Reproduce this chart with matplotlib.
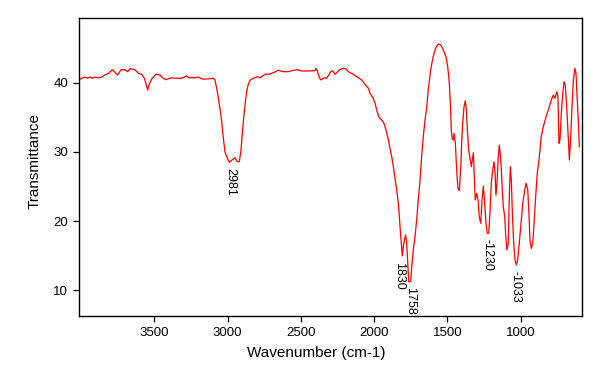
import matplotlib

matplotlib.use("Agg")
import matplotlib.pyplot as plt
import numpy as np

plt.rcParams["font.family"] = ["Liberation Sans", "DejaVu Sans"]

# 4000-3090 cm-1: baseline with the small O-H dip
wn_high = [4007, 3973, 3954, 3939, 3923, 3905, 3886, 3859, 3836, 3813,
           3787, 3768, 3750, 3727, 3700, 3682, 3666, 3632, 3609, 3586,
           3568, 3557, 3545, 3536, 3518, 3490, 3461, 3445, 3422, 3381,
           3359, 3313, 3279, 3263, 3222, 3200, 3173, 3143, 3097]
t_high = [40.53, 40.82, 40.64, 40.82, 40.64, 40.82, 40.72, 40.82, 41.11, 41.36,
          41.88, 41.50, 41.11, 41.88, 41.88, 41.59, 42.02, 41.88, 41.36, 41.21,
          40.64, 39.86, 38.95, 39.67, 40.53, 41.21, 41.11, 40.72, 40.43, 40.72,
          40.64, 40.64, 40.97, 40.72, 40.72, 40.82, 40.53, 40.53, 40.64]

# 3090-2020 cm-1: C-H stretch band
wn_ch = [3086, 3074, 3063, 3052, 3040, 3029, 3018, 3006, 2988, 2970,
         2949, 2934, 2920, 2910, 2902, 2893, 2881, 2870, 2859, 2847,
         2825, 2797, 2779, 2745, 2711, 2683, 2654, 2620, 2586, 2562,
         2528, 2494, 2460, 2404, 2397, 2388, 2374, 2363, 2342, 2324,
         2296, 2283, 2267, 2238, 2210, 2192, 2170, 2142, 2108, 2085,
         2062, 2039, 2028]
t_ch = [40.39, 39.19, 37.75, 36.30, 34.36, 31.97, 30.03, 29.31, 28.50, 28.83,
        29.16, 28.58, 28.58, 30.03, 31.97, 34.36, 36.78, 38.70, 39.77, 40.35,
        40.64, 40.87, 40.72, 41.21, 41.26, 41.50, 41.79, 41.59, 41.59, 41.73,
        41.88, 41.69, 41.69, 41.73, 42.08, 41.73, 40.72, 40.39, 40.72, 40.64,
        41.59, 41.73, 41.21, 41.84, 42.08, 41.98, 41.50, 41.21, 40.72, 40.39,
        39.77, 39.19, 38.47]

# 2010-1470 cm-1: carbonyl doublet
wn_co = [2006, 1994, 1983, 1967, 1948, 1933, 1919, 1903, 1892, 1880,
         1869, 1858, 1846, 1835, 1828, 1822, 1815, 1808, 1801, 1794,
         1785, 1778, 1771, 1764, 1751, 1742, 1733, 1721, 1710, 1699,
         1687, 1676, 1665, 1653, 1641, 1631, 1614, 1600, 1585, 1573,
         1560, 1546, 1528, 1510, 1498, 1487, 1478, 1474]
t_co = [37.75, 37.02, 36.06, 35.00, 34.61, 34.13, 33.17, 31.72, 30.52, 29.31,
        27.86, 26.19, 24.50, 22.57, 20.64, 18.72, 16.79, 14.96, 16.30, 17.27,
        17.99, 16.79, 13.90, 11.24, 11.24, 13.90, 15.83, 17.75, 20.16, 23.05,
        25.94, 29.31, 32.20, 34.61, 36.53, 38.95, 41.84, 43.53, 44.73, 45.30,
        45.59, 45.45, 44.73, 43.76, 42.31, 39.91, 36.06, 33.17]

# 1470-600 cm-1: fingerprint region
wn_fp = [1467, 1460, 1455, 1446, 1439, 1435, 1428, 1419, 1409, 1403,
         1396, 1387, 1378, 1371, 1364, 1355, 1346, 1337, 1330, 1323,
         1317, 1310, 1300, 1291, 1283, 1273, 1264, 1255, 1246, 1237,
         1228, 1218, 1210, 1201, 1191, 1182, 1175, 1169, 1162, 1153,
         1146, 1139, 1132, 1126, 1119, 1109, 1102, 1094, 1085, 1078,
         1071, 1064, 1057, 1048, 1039, 1030, 1021, 1010, 998, 986,
         976, 964, 952, 943, 937, 928, 918, 909, 898, 887,
         873, 860, 846, 827, 812, 795, 778, 766, 754, 746,
         739, 732, 723, 713, 705, 696, 686, 675, 668, 659,
         650, 641, 630, 623, 614, 604, 600]
t_fp = [31.86, 31.72, 32.69, 31.24, 28.35, 26.66, 24.74, 24.39, 27.86, 31.24,
        34.13, 36.53, 37.40, 36.06, 33.17, 30.28, 29.08, 27.86, 28.83, 29.88,
        26.42, 23.05, 24.02, 23.05, 20.64, 19.68, 23.05, 25.07, 22.57, 19.68,
        18.24, 18.24, 21.13, 25.46, 27.39, 28.58, 26.91, 23.77, 25.46, 29.31,
        31.00, 29.55, 27.39, 24.50, 22.08, 20.64, 17.75, 15.83, 16.79, 23.53,
        27.86, 25.94, 21.13, 16.79, 14.38, 13.66, 14.38, 16.79, 19.68, 22.57,
        24.02, 25.46, 24.50, 20.64, 17.27, 16.07, 16.79, 19.68, 23.53, 26.91,
        29.31, 32.20, 33.64, 35.09, 36.06, 37.25, 38.22, 37.75, 38.70, 37.98,
        31.24, 31.72, 35.58, 38.47, 40.14, 39.67, 36.53, 31.72, 28.83, 32.20,
        36.53, 40.39, 42.08, 41.36, 37.50, 33.17, 30.75]

# labelled peaks
peak_wn = [2981, 1830, 1758, 1230, 1033]
peak_t = [28.50, 14.96, 11.24, 18.24, 13.66]
peak_labels = ["2981", "1830", "1758", "-1230", "-1033"]

x_ticks = [3500, 3000, 2500, 2000, 1500, 1000]
y_ticks = [10, 20, 30, 40]

wavenumber = np.concatenate([wn_high, wn_ch, wn_co, wn_fp])
transmittance = np.concatenate([t_high, t_ch, t_co, t_fp])

fig = plt.figure(figsize=(6.07, 3.75), dpi=100)
ax = fig.add_axes([0.1306, 0.1565, 0.8277, 0.7955])

ax.plot(wavenumber, transmittance, color="#ff0000", lw=0.9)

for x, y, label in zip(peak_wn, peak_t, peak_labels):
    ax.annotate(
        label,
        xy=(x, y),
        xytext=(0, -4),
        textcoords="offset points",
        rotation=-90,
        ha="center",
        va="top",
        fontsize=9,
    )

ax.set_xlim(4012, 584)
ax.set_ylim(6.24, 49.35)
ax.set_xticks(x_ticks)
ax.set_yticks(y_ticks)
ax.tick_params(direction="out", length=4.5, width=0.9, labelsize=9.5)
for spine in ax.spines.values():
    spine.set_linewidth(1.0)

ax.set_xlabel("Wavenumber (cm-1)", fontsize=11)
ax.set_ylabel("Transmittance", fontsize=11)
ax.xaxis.set_label_coords(0.471, -0.1)
ax.yaxis.set_label_coords(-0.074, 0.52)

fig.savefig("out.png", dpi=100)
plt.close(fig)
